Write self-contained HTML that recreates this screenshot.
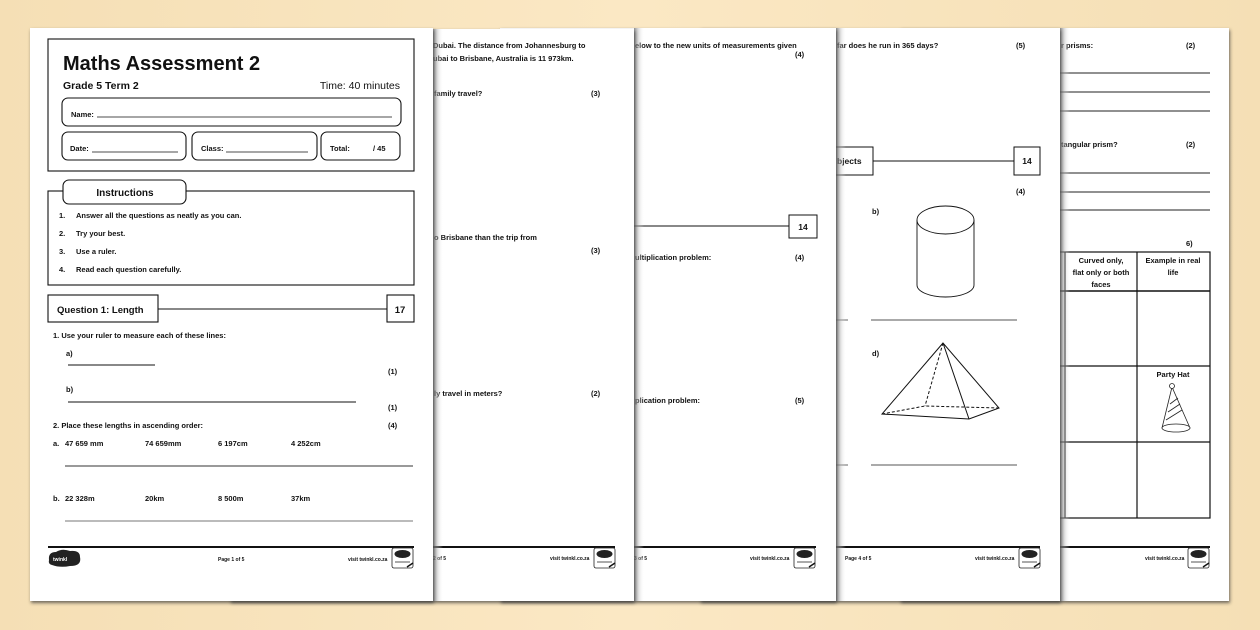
<!DOCTYPE html>
<html><head><meta charset="utf-8"><style>
html,body{margin:0;padding:0;width:1260px;height:630px;overflow:hidden;background:#fae5bf}
svg{display:block}
text{font-family:"Liberation Sans",sans-serif;font-weight:bold;fill:#111}
.s{font-size:7.5px}.t{font-size:5px}
</style></head><body>
<svg width="1260" height="630" viewBox="0 0 1260 630" xmlns="http://www.w3.org/2000/svg">
<defs>
<linearGradient id="bg" x1="0" y1="0" x2="1" y2="0"><stop offset="0" stop-color="#f5dfb5"/><stop offset="0.5" stop-color="#fbe8c4"/><stop offset="1" stop-color="#f5dfb5"/></linearGradient>
<linearGradient id="sh" x1="0" y1="0" x2="1" y2="0"><stop offset="0" stop-color="#777"/><stop offset="1" stop-color="#fff" stop-opacity="0"/></linearGradient>
<filter id="ds" x="-5%" y="-5%" width="110%" height="110%"><feDropShadow dx="1" dy="2" stdDeviation="1.5" flood-color="#333" flood-opacity="0.7"/></filter>
<g id="badge"><rect x="0" y="0" width="21" height="20" rx="2" fill="#fff" stroke="#222" stroke-width="0.8"/><ellipse cx="10.5" cy="6" rx="8" ry="4" fill="#222"/><line x1="3" y1="14" x2="18" y2="14" stroke="#555" stroke-width="1"/><line x1="15" y1="19" x2="21" y2="15" stroke="#111" stroke-width="1.5"/></g>
</defs>
<rect width="1260" height="630" fill="url(#bg)"/>

<!-- Page 5 -->
<g filter="url(#ds)"><rect x="900" y="28" width="329" height="573" fill="#fff"/></g>
<text class="s" x="1061" y="48">r prisms:</text><text class="s" x="1186" y="48">(2)</text>
<g stroke="#222" stroke-width="0.9"><line x1="1060" y1="73" x2="1210" y2="73"/><line x1="1060" y1="92" x2="1210" y2="92"/><line x1="1060" y1="111" x2="1210" y2="111"/><line x1="1060" y1="173" x2="1210" y2="173"/><line x1="1060" y1="192" x2="1210" y2="192"/><line x1="1060" y1="210" x2="1210" y2="210"/></g>
<text class="s" x="1061" y="147">tangular prism?</text><text class="s" x="1186" y="147">(2)</text>
<text class="s" x="1186" y="246">6)</text>
<g stroke="#111" stroke-width="1.2" fill="none"><rect x="1050" y="252" width="160" height="266"/><line x1="1050" y1="291" x2="1210" y2="291" stroke-width="1.6"/><line x1="1065" y1="252" x2="1065" y2="518"/><line x1="1137" y1="252" x2="1137" y2="518"/><line x1="1050" y1="366" x2="1210" y2="366"/><line x1="1050" y1="442" x2="1210" y2="442"/></g>
<text class="s" x="1101" y="263" text-anchor="middle">Curved only,</text><text class="s" x="1101" y="275" text-anchor="middle">flat only or both</text><text class="s" x="1101" y="287" text-anchor="middle">faces</text>
<text class="s" x="1173" y="263" text-anchor="middle">Example in real</text><text class="s" x="1173" y="275" text-anchor="middle">life</text>
<text class="s" x="1173" y="377" text-anchor="middle">Party Hat</text>
<g stroke="#222" stroke-width="0.8" fill="#fff"><path d="M1172 387 L1162 428 Q1176 434 1190 428 Z"/><ellipse cx="1176" cy="428" rx="14" ry="4"/><path d="M1166 420 L1182 410 M1168 412 L1180 404 M1170 404 L1178 398" fill="none"/><circle cx="1172" cy="386" r="2.5"/></g>
<line x1="1060" y1="547" x2="1210" y2="547" stroke="#111" stroke-width="2"/>
<text class="t" x="1145" y="560">visit twinkl.co.za</text><use href="#badge" x="1188" y="548"/>
<rect x="1060" y="28" width="10" height="573" fill="url(#sh)" opacity="0.8"/>

<!-- Page 4 -->
<g filter="url(#ds)"><rect x="700" y="28" width="360" height="573" fill="#fff"/></g>
<text class="s" x="837" y="48">far does he run in 365 days?</text><text class="s" x="1016" y="48">(5)</text>
<rect x="820" y="147" width="53" height="28" fill="#fff" stroke="#111" stroke-width="1"/><text class="s" x="837" y="164" style="font-size:8.5px">bjects</text>
<line x1="873" y1="161" x2="1014" y2="161" stroke="#111" stroke-width="1"/>
<rect x="1014" y="147" width="26" height="28" fill="#fff" stroke="#111" stroke-width="1"/><text class="s" x="1027" y="164" text-anchor="middle" style="font-size:8.5px">14</text>
<text class="s" x="1016" y="194">(4)</text>
<text class="s" x="872" y="214">b)</text>
<g stroke="#111" stroke-width="0.9" fill="none"><ellipse cx="945.5" cy="220" rx="28.5" ry="14"/><path d="M917 220 L917 285 A28.5 12 0 0 0 974 285 L974 220"/></g>
<g stroke="#555" stroke-width="0.9"><line x1="836" y1="320" x2="848" y2="320"/><line x1="871" y1="320" x2="1017" y2="320"/><line x1="836" y1="465" x2="848" y2="465"/><line x1="871" y1="465" x2="1017" y2="465"/></g>
<text class="s" x="872" y="356">d)</text>
<g stroke="#111" stroke-width="1" fill="none"><path d="M943 343 L882 414 L969 419 L999 408 Z M943 343 L969 419"/><path d="M943 343 L925 406 M882 414 L925 406 L999 408" stroke-dasharray="3,2"/></g>
<line x1="836" y1="547" x2="1040" y2="547" stroke="#111" stroke-width="2"/>
<text class="t" x="845" y="560">Page 4 of 5</text><text class="t" x="975" y="560">visit twinkl.co.za</text><use href="#badge" x="1019" y="548"/>
<rect x="836" y="28" width="10" height="573" fill="url(#sh)" opacity="0.8"/>

<!-- Page 3 -->
<g filter="url(#ds)"><rect x="500" y="28" width="336" height="573" fill="#fff"/></g>
<text class="s" x="635" y="48">elow to the new units of  measurements given</text><text class="s" x="795" y="57">(4)</text>
<line x1="634" y1="226" x2="789" y2="226" stroke="#111" stroke-width="1"/>
<rect x="789" y="215" width="28" height="23" fill="#fff" stroke="#111" stroke-width="1"/><text class="s" x="803" y="230" text-anchor="middle" style="font-size:8.5px">14</text>
<text class="s" x="635" y="260">ultiplication problem:</text><text class="s" x="795" y="260">(4)</text>
<text class="s" x="635" y="403">plication problem:</text><text class="s" x="795" y="403">(5)</text>
<line x1="634" y1="547" x2="816" y2="547" stroke="#111" stroke-width="2"/>
<text class="t" x="634" y="560">3 of 5</text><text class="t" x="750" y="560">visit twinkl.co.za</text><use href="#badge" x="794" y="548"/>
<rect x="634" y="28" width="10" height="573" fill="url(#sh)" opacity="0.8"/>

<!-- Page 2 -->
<g filter="url(#ds)"><rect x="230" y="29" width="404" height="572" fill="#fff"/></g>
<text class="s" x="433" y="48">Dubai. The distance from Johannesburg to</text>
<text class="s" x="433" y="61">ubai to Brisbane, Australia is 11 973km.</text>
<text class="s" x="434" y="96">family travel?</text><text class="s" x="591" y="96">(3)</text>
<text class="s" x="434" y="240">o Brisbane than the trip from</text><text class="s" x="591" y="253">(3)</text>
<text class="s" x="434" y="396">ly travel in meters?</text><text class="s" x="591" y="396">(2)</text>
<line x1="433" y1="547" x2="615" y2="547" stroke="#111" stroke-width="2"/>
<text class="t" x="433" y="560">2 of 5</text><text class="t" x="550" y="560">visit twinkl.co.za</text><use href="#badge" x="594" y="548"/>
<rect x="433" y="29" width="10" height="572" fill="url(#sh)" opacity="0.8"/>

<!-- Page 1 -->
<g filter="url(#ds)"><rect x="30" y="28" width="403" height="573" fill="#fff"/></g>
<g fill="none" stroke="#111" stroke-width="1.1">
<rect x="48" y="39" width="366" height="132"/>
<rect x="62" y="98" width="339" height="28" rx="6"/>
<rect x="62" y="132" width="124" height="28" rx="6"/>
<rect x="192" y="132" width="125" height="28" rx="6"/>
<rect x="321" y="132" width="79" height="28" rx="6"/>
<rect x="48" y="191" width="366" height="94"/>
<rect x="48" y="295" width="110" height="27"/>
<rect x="387" y="295" width="27" height="27"/>
<line x1="158" y1="309" x2="387" y2="309"/>
</g>
<rect x="63" y="180" width="123" height="24" rx="6" fill="#fff" stroke="#111" stroke-width="1.1"/>
<text x="63" y="70" style="font-size:20px">Maths Assessment 2</text>
<text x="63" y="89" style="font-size:10.5px">Grade 5 Term 2</text>
<text x="400" y="89" text-anchor="end" style="font-size:10.5px;font-weight:normal">Time: 40 minutes</text>
<text class="s" x="71" y="117">Name:</text><line x1="97" y1="117" x2="392" y2="117" stroke="#111" stroke-width="0.8"/>
<text class="s" x="70" y="151">Date:</text><line x1="92" y1="152" x2="178" y2="152" stroke="#111" stroke-width="0.8"/>
<text class="s" x="201" y="151">Class:</text><line x1="226" y1="152" x2="308" y2="152" stroke="#111" stroke-width="0.8"/>
<text class="s" x="330" y="151">Total:</text><text class="s" x="373" y="151">/ 45</text>
<text x="125" y="196" text-anchor="middle" style="font-size:10px">Instructions</text>
<text class="s" x="59" y="218">1.</text><text class="s" x="76" y="218">Answer all the questions as neatly as you can.</text>
<text class="s" x="59" y="236">2.</text><text class="s" x="76" y="236">Try your best.</text>
<text class="s" x="59" y="254">3.</text><text class="s" x="76" y="254">Use a ruler.</text>
<text class="s" x="59" y="272">4.</text><text class="s" x="76" y="272">Read each question carefully.</text>
<text x="57" y="313" style="font-size:9.5px">Question 1: Length</text>
<text x="400" y="313" text-anchor="middle" style="font-size:9.5px">17</text>
<text class="s" x="53" y="338">1.  Use your ruler to measure each of these lines:</text>
<text class="s" x="66" y="356">a)</text><line x1="68" y1="365" x2="155" y2="365" stroke="#111" stroke-width="1"/>
<text class="s" x="388" y="374">(1)</text>
<text class="s" x="66" y="392">b)</text><line x1="68" y1="402" x2="356" y2="402" stroke="#111" stroke-width="1"/>
<text class="s" x="388" y="410">(1)</text>
<text class="s" x="53" y="428">2.  Place these lengths in ascending order:</text><text class="s" x="388" y="428">(4)</text>
<text class="s" x="53" y="446">a.</text><text class="s" x="65" y="446">47 659 mm</text><text class="s" x="145" y="446">74 659mm</text><text class="s" x="218" y="446">6 197cm</text><text class="s" x="291" y="446">4 252cm</text>
<line x1="65" y1="466" x2="413" y2="466" stroke="#333" stroke-width="0.9"/>
<text class="s" x="53" y="501">b.</text><text class="s" x="65" y="501">22 328m</text><text class="s" x="145" y="501">20km</text><text class="s" x="218" y="501">8 500m</text><text class="s" x="291" y="501">37km</text>
<line x1="65" y1="521" x2="413" y2="521" stroke="#777" stroke-width="0.9"/>
<line x1="48" y1="547" x2="414" y2="547" stroke="#111" stroke-width="2"/>
<path d="M49 560 Q48 552 56 552 Q62 548 70 551 Q80 550 80 557 Q82 566 70 566 Q60 568 52 565 Q48 564 49 560 Z" fill="#222"/>
<text x="53" y="561" style="font-size:5px;fill:#fff">twinkl</text>
<text class="t" x="218" y="561">Page 1 of 5</text><text class="t" x="348" y="561">visit twinkl.co.za</text><use href="#badge" x="392" y="548"/>
</svg>
</body></html>
